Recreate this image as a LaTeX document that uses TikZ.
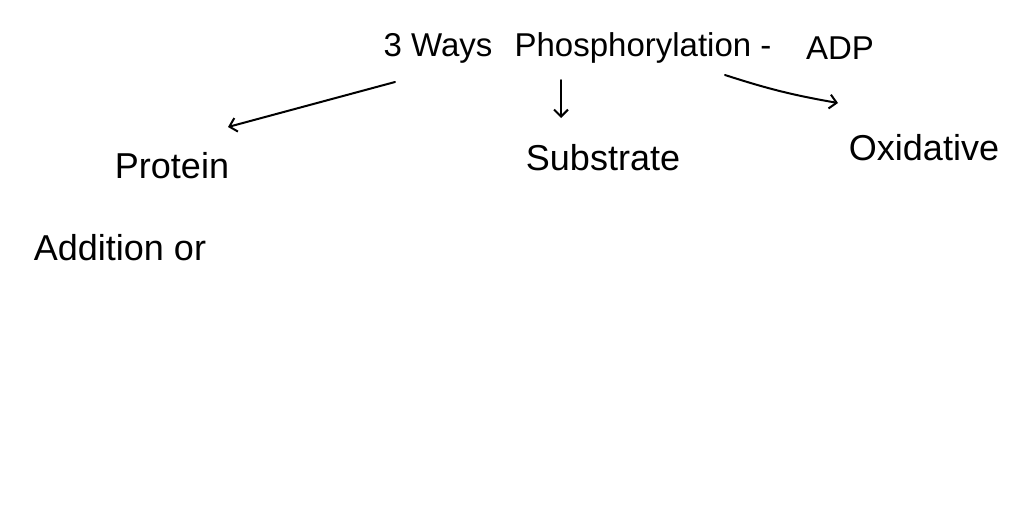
\documentclass[tikz,border=0pt]{standalone}
\usepackage{fontspec}
\setmainfont{Liberation Sans}
\usetikzlibrary{arrows.meta}
\begin{document}
\begin{tikzpicture}[x=1pt,y=-1pt,
  lbl/.style={font=\fontsize{33}{36}\selectfont, inner sep=0pt},
  big/.style={font=\fontsize{36}{40}\selectfont, inner sep=0pt},
  arr/.style={-{Straight Barb[length=7pt,width=14pt]}, line width=2pt, line cap=round}]
\useasboundingbox[fill=white] (0,0) rectangle (1024,512);
\node[lbl] (ways) at (438,48) {3 Ways};
\node[lbl] (phos) at (643,48) {Phosphorylation -};
\node[lbl] (adp) at (840,48) {ADP};
\node[big] (prot) at (172,166) {Protein};
\node[big] (sub) at (603,158) {Substrate};
\node[big] (oxi) at (924,148) {Oxidative};
\node[big] (add) at (120,248) {Addition or};
\coordinate (a1) at (395,82); \coordinate (b1) at (228,127);
\coordinate (a2) at (561,80); \coordinate (b2) at (561,118);
\coordinate (a3) at (725,75); \coordinate (b3) at (838,103);
\draw[arr] (a1) -- (b1);
\draw[arr] (a2) -- (b2);
\draw[arr] (a3) to[bend left=-4] (b3);
\end{tikzpicture}
\end{document}
